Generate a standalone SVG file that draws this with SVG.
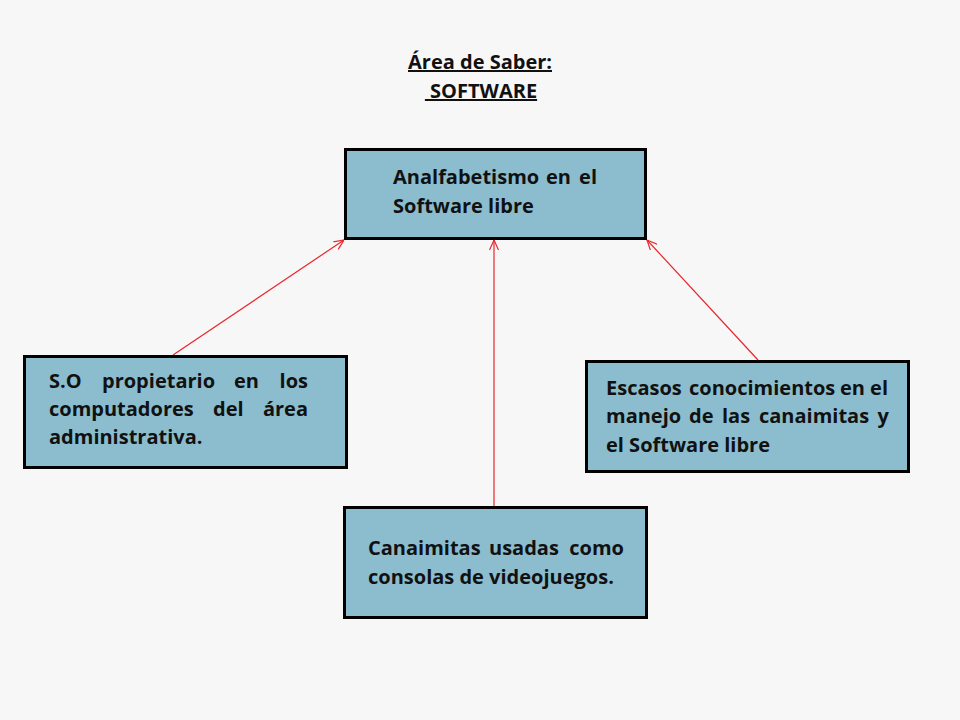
<svg xmlns="http://www.w3.org/2000/svg" width="960" height="720" viewBox="0 0 960 720">
<style>
.box{fill:#8BBDCF;stroke:#000;stroke-width:3}
.t{font-family:"Open Sans","Liberation Sans",sans-serif;font-weight:bold;font-size:20px;fill:#111}
.title{font-family:"Open Sans","Liberation Sans",sans-serif;font-weight:bold;font-size:20px;fill:#111;text-decoration:underline}
.conn{stroke:#E8262B;stroke-width:1.2;fill:none;marker-end:url(#arr)}
</style>
<defs>
<marker id="arr" viewBox="0 0 10 10" refX="10" refY="5" markerWidth="10" markerHeight="10" markerUnits="userSpaceOnUse" orient="auto">
<path d="M0,0.5 L10,5 L0,9.5" fill="none" stroke="#E8262B" stroke-width="1.2"/>
</marker>
</defs>
<rect width="960" height="720" fill="#F7F7F7"/>
<g id="title">
<text class="title" x="480" y="69" text-anchor="middle">Área de Saber:</text>
<text class="title" x="481" y="98" text-anchor="middle" xml:space="preserve"> SOFTWARE</text>
</g>
<g id="connectors">
<line class="conn" x1="173" y1="355" x2="344" y2="240"/>
<line class="conn" x1="494" y1="506" x2="494" y2="240"/>
<line class="conn" x1="758" y1="360" x2="647" y2="240"/>
</g>
<g id="node-top">
<rect class="box" x="345.5" y="149.5" width="300" height="89"/>
<text class="t" y="184"><tspan x="393">Analfabetismo</tspan><tspan x="546">en</tspan><tspan x="597" text-anchor="end">el</tspan></text>
<text class="t" x="393" y="213">Software libre</text>
</g>
<g id="node-left">
<rect class="box" x="24.5" y="356.5" width="322" height="111"/>
<text class="t" y="388"><tspan x="49">S.O</tspan><tspan x="102">propietario</tspan><tspan x="234">en</tspan><tspan x="308" text-anchor="end">los</tspan></text>
<text class="t" y="416"><tspan x="49">computadores</tspan><tspan x="213">del</tspan><tspan x="308" text-anchor="end">área</tspan></text>
<text class="t" x="49" y="444">administrativa.</text>
</g>
<g id="node-right">
<rect class="box" x="586.5" y="361.5" width="322" height="110"/>
<text class="t" y="395"><tspan x="606">Escasos</tspan><tspan x="689">conocimientos</tspan><tspan x="840">en</tspan><tspan x="888" text-anchor="end">el</tspan></text>
<text class="t" y="423"><tspan x="606">manejo</tspan><tspan x="689">de</tspan><tspan x="722">las</tspan><tspan x="759">canaimitas</tspan><tspan x="889" text-anchor="end">y</tspan></text>
<text class="t" x="606" y="452">el Software libre</text>
</g>
<g id="node-bottom">
<rect class="box" x="344.5" y="507.5" width="302" height="110"/>
<text class="t" y="555"><tspan x="368">Canaimitas</tspan><tspan x="489">usadas</tspan><tspan x="624" text-anchor="end">como</tspan></text>
<text class="t" x="368" y="584">consolas de videojuegos.</text>
</g>
</svg>
